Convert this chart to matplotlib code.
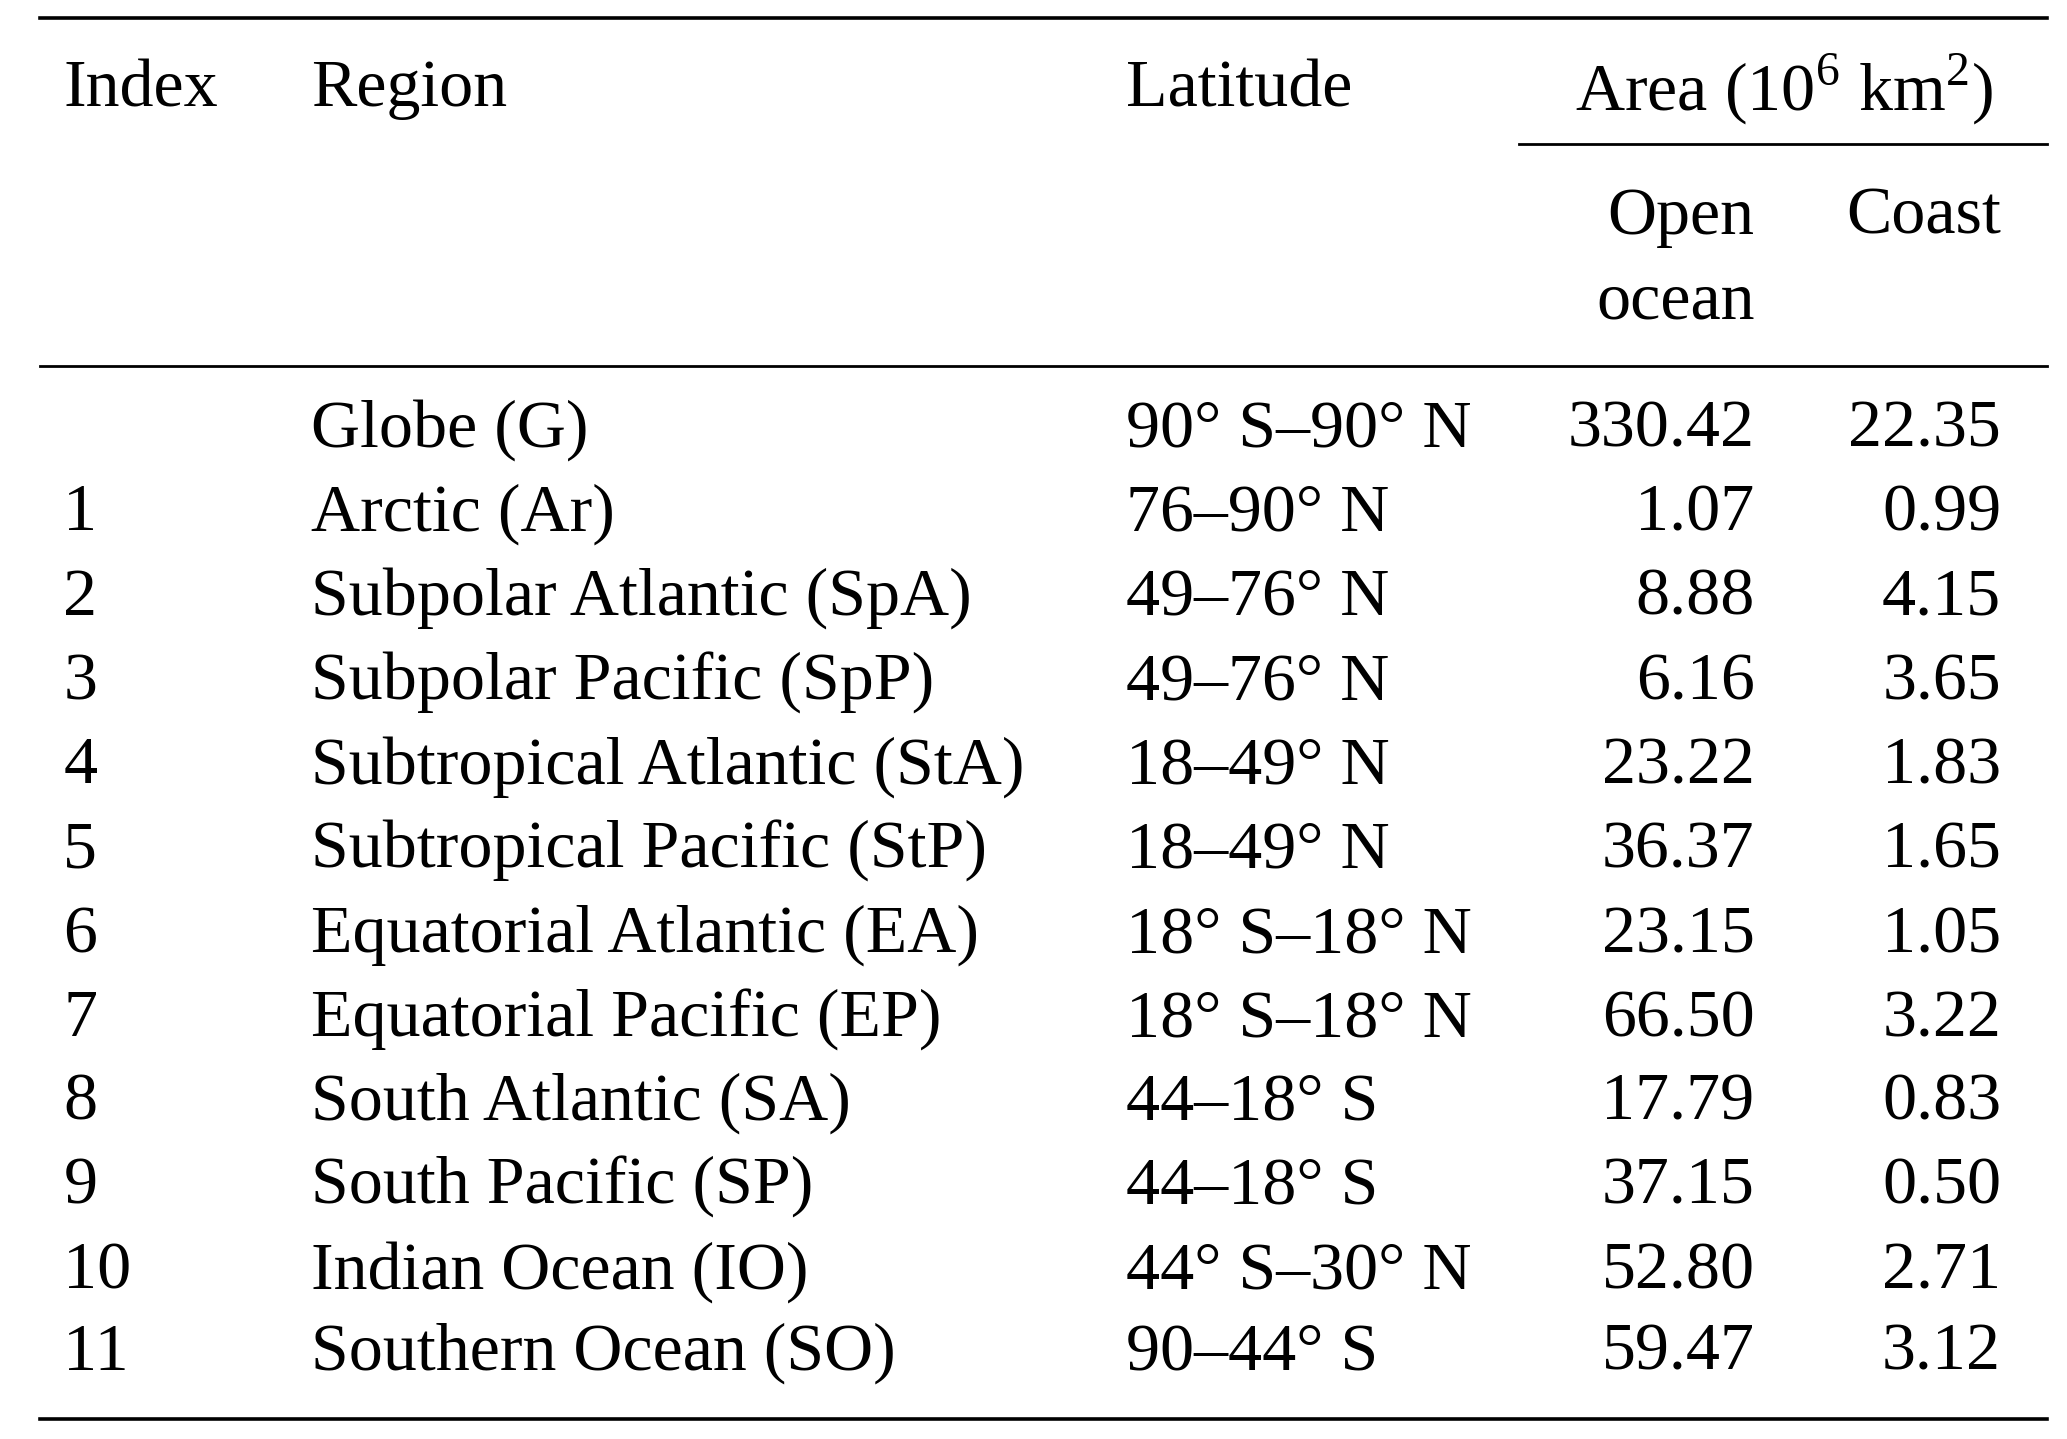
import matplotlib
matplotlib.use("Agg")
import matplotlib.pyplot as plt

plt.rcParams['font.family'] = ['Liberation Serif', 'DejaVu Serif']
plt.rcParams['mathtext.fontset'] = 'custom'
plt.rcParams['mathtext.rm'] = 'Liberation Serif'

indices = ["", "1", "2", "3", "4", "5", "6", "7", "8", "9", "10", "11"]
regions = ["Globe (G)", "Arctic (Ar)", "Subpolar Atlantic (SpA)", "Subpolar Pacific (SpP)",
           "Subtropical Atlantic (StA)", "Subtropical Pacific (StP)", "Equatorial Atlantic (EA)",
           "Equatorial Pacific (EP)", "South Atlantic (SA)", "South Pacific (SP)",
           "Indian Ocean (IO)", "Southern Ocean (SO)"]
latitudes = ["90° S–90° N", "76–90° N", "49–76° N", "49–76° N", "18–49° N", "18–49° N",
             "18° S–18° N", "18° S–18° N", "44–18° S", "44–18° S", "44° S–30° N", "90–44° S"]
open_ocean = ["330.42", "1.07", "8.88", "6.16", "23.22", "36.37", "23.15", "66.50",
              "17.79", "37.15", "52.80", "59.47"]
coast = ["22.35", "0.99", "4.15", "3.65", "1.83", "1.65", "1.05", "3.22",
         "0.83", "0.50", "2.71", "3.12"]

W, H = 1568.0, 1092.0
fig = plt.figure(figsize=(2067/200, 1439/200), dpi=200)
fs = 24.5

def X(x): return x / W
def Y(y): return 1 - y / H

def hline(y, x0, x1, lw=1.3):
    fig.add_artist(plt.Line2D([X(x0), X(x1)], [Y(y), Y(y)], color='black', lw=lw))

def t(x, y, s, ha='left'):
    fig.text(X(x), Y(y + 3), s, ha=ha, va='center', fontsize=fs)

hline(14, 30, 1553)
hline(109, 1152, 1553, lw=1.0)
hline(278, 30, 1553, lw=1.0)
hline(1077, 30, 1553)

t(48, 65, "Index")
t(236, 65, "Region")
t(854, 65, "Latitude")
t(1353, 65, r"Area (10$^{6}$ km$^{2}$)", ha='center')
t(1331, 162, "Open", ha='right')
t(1331, 226, "ocean", ha='right')
t(1518, 162, "Coast", ha='right')

row_y = [323, 387, 451, 515, 579, 643, 707, 771, 834, 898, 962, 1024]
for i, y in enumerate(row_y):
    t(48, y, indices[i])
    t(236, y, regions[i])
    t(854, y, latitudes[i])
    t(1331, y, open_ocean[i], ha='right')
    t(1518, y, coast[i], ha='right')

fig.savefig("out.png", dpi=200, facecolor='white')
